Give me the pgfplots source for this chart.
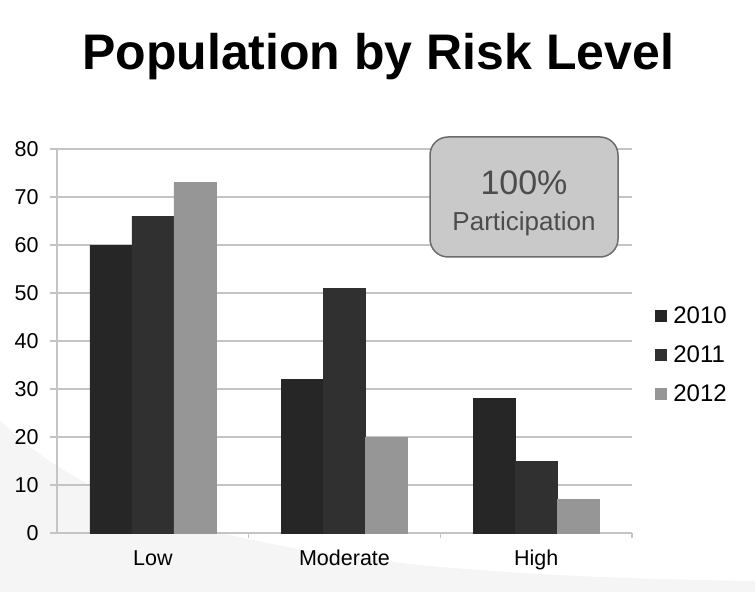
\documentclass[border=0pt]{standalone}
\usepackage{pgfplots}
\pgfplotsset{compat=1.18}
\usepackage{fontspec}
\setmainfont{Liberation Sans}
\definecolor{cA}{HTML}{262626}
\definecolor{cB}{HTML}{303030}
\definecolor{cC}{HTML}{969696}
\definecolor{gridc}{HTML}{C4C4C4}
\begin{document}
\begin{tikzpicture}[x=1pt,y=1pt]
\useasboundingbox (-57,-59) rectangle (698,533);
\fill[black!4] (-57,-59) -- (-57,113) .. controls (60,-5) and (280,-42) .. (698,-48) -- (698,-59) -- cycle;
\begin{axis}[
  at={(0pt,0pt)}, anchor=south west,
  scale only axis, width=575pt, height=384pt,
  xmin=-0.5, xmax=2.5, ymin=0, ymax=80,
  ybar=0pt, bar width=42pt,
  xtick={0,1,2}, xticklabels={Low,Moderate,High},
  minor xtick={0.5,1.5,2.5},
  ytick={0,10,...,80},
  axis x line*=bottom, axis y line*=left,
  axis line style={draw=gridc, line width=1.2pt, -},
  ymajorgrids, major grid style={draw=gridc, line width=1.2pt},
  tick align=outside,
  major x tick style={draw=none},
  minor tick length=5pt, major tick length=7pt,
  every tick/.style={draw=gridc, line width=1.2pt},
  major y tick style={draw=gridc, line width=1.2pt},
  minor x tick style={draw=gridc, line width=1.2pt},
  tick label style={font=\fontsize{21.5}{25}\selectfont, text=black},
  /pgf/number format/assume math mode=true,
  xticklabel style={yshift=-6pt, text height=15.5pt, text depth=4.5pt},
  yticklabel style={xshift=-8pt},
  legend style={at={(1.035,0.464)}, anchor=west, draw=none, fill=none,
    font=\fontsize{24}{28}\selectfont, row sep=17pt,
    legend cell align=left},
  legend image code/.code={\path[draw=none,fill=none] (0pt,0pt) -- (16pt,0pt); \fill[#1,draw=none] (0pt,-6pt) rectangle (12pt,6pt);},
]
\addplot[fill=cA, draw=cA] coordinates {(0,60) (1,32) (2,28)};
\addplot[fill=cB, draw=cB] coordinates {(0,66) (1,51) (2,15)};
\addplot[fill=cC, draw=cC] coordinates {(0,73) (1,20) (2,7)};
\legend{2010,2011,2012}
\end{axis}
\node[font=\fontsize{50}{58}\bfseries\selectfont] at (321,476) {Population by Risk Level};
\draw[draw=gray!85!black, line width=1.5pt, fill=black!21, rounded corners=18pt] (373,276) rectangle (561,396);
\node[font=\fontsize{34}{40}\selectfont, text=black!70] at (467,350) {100\%};
\node[font=\fontsize{26}{30}\selectfont, text=black!70] at (467,309) {Participation};
\end{tikzpicture}
\end{document}
